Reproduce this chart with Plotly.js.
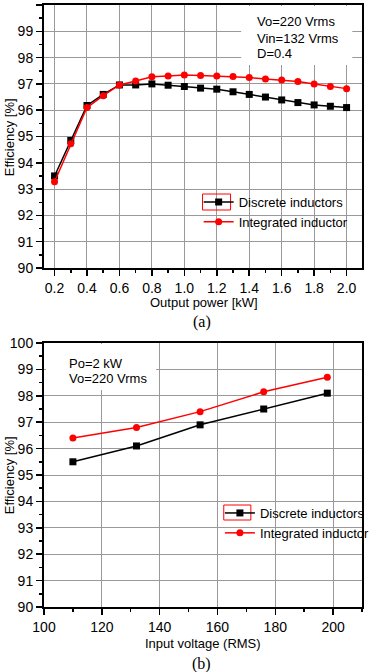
<!DOCTYPE html>
<html><head><meta charset="utf-8">
<script src="https://cdn.plot.ly/plotly-3.0.1.min.js"></script>
<style>html,body{margin:0;padding:0;background:#fff}#c{width:375px;height:672px}</style>
</head><body><div id="c"></div>
<script>
const powerKW = [0.2,0.3,0.4,0.5,0.6,0.7,0.8,0.9,1.0,1.1,1.2,1.3,1.4,1.5,1.6,1.7,1.8,1.9,2.0];
const effDiscreteA = [93.5,94.85,96.18,96.6,96.96,96.96,97.0,96.95,96.9,96.84,96.8,96.7,96.6,96.5,96.39,96.29,96.2,96.15,96.1];
const effIntegratedA = [93.28,94.72,96.1,96.55,96.96,97.11,97.27,97.3,97.34,97.32,97.3,97.28,97.24,97.19,97.15,97.09,97.0,96.9,96.82];
const inputV = [110,132,154,176,198];
const effDiscreteB = [95.5,96.1,96.9,97.5,98.1];
const effIntegratedB = [96.4,96.8,97.4,98.15,98.7];
const seriesNames = ["Discrete inductors","Integrated inductor"];

const W=375,H=672,L=44,R=2,PW=W-L-R;
const px=x=>(x-L)/PW, py=y=>(H-y)/H;
const font="Liberation Sans, Arial, sans-serif";
const xRangeA=[0.135,2.095], xRangeB=[100,210];
const topA=5,botA=268,topB=343,botB=607;
const dxA=p=>xRangeA[0]+(p-L)*(xRangeA[1]-xRangeA[0])/PW;
const dyA=p=>100-(p-topA)*10/(botA-topA);
const dxB=p=>xRangeB[0]+(p-L)*(xRangeB[1]-xRangeB[0])/PW;
const dyB=p=>100-(p-topB)*10/(botB-topB);

const lineStyle = c=>({color:c,width:1.5});
const traces = [
 {x:powerKW,y:effDiscreteA,name:seriesNames[0],mode:"lines+markers",line:lineStyle("#000"),marker:{symbol:"square",size:7,color:"#000"},xaxis:"x",yaxis:"y",legend:"legend"},
 {x:powerKW,y:effIntegratedA,name:seriesNames[1],mode:"lines+markers",line:lineStyle("#ff0000"),marker:{symbol:"circle",size:7,color:"#ff0000"},xaxis:"x",yaxis:"y",legend:"legend"},
 {x:inputV,y:effDiscreteB,name:seriesNames[0],mode:"lines+markers",line:lineStyle("#000"),marker:{symbol:"square",size:7,color:"#000"},xaxis:"x2",yaxis:"y2",legend:"legend2"},
 {x:inputV,y:effIntegratedB,name:seriesNames[1],mode:"lines+markers",line:lineStyle("#ff0000"),marker:{symbol:"circle",size:7,color:"#ff0000"},xaxis:"x2",yaxis:"y2",legend:"legend2"}
];

const axBase = {showline:true,linecolor:"#000",linewidth:2,mirror:true,showgrid:true,gridcolor:"#999999",gridwidth:1,
 ticks:"outside",ticklen:6,tickwidth:1.5,tickcolor:"#000",zeroline:false,tickfont:{family:font,size:14,color:"#000"}};

const yBase = Object.assign({},axBase,{range:[90,100],dtick:1,tick0:90,minor:{dtick:0.5,ticks:"outside",ticklen:3,tickwidth:1.5,tickcolor:"#000",showgrid:false}});

const ann = (text,x,y,opts)=>Object.assign({text:text,xref:"paper",yref:"paper",x:px(x),y:py(y),showarrow:false,
 font:{family:font,size:13,color:"#000"},xanchor:"left",yanchor:"middle"},opts||{});

const layout = {
 width:W,height:H,margin:{l:L,r:R,t:0,b:0},paper_bgcolor:"#fff",plot_bgcolor:"#fff",
 xaxis:Object.assign({},axBase,{domain:[0,1],anchor:"y",range:xRangeA,dtick:0.2,tick0:0.2,tickformat:".1f",
   minor:{dtick:0.1,ticks:"outside",ticklen:3,tickwidth:1.5,tickcolor:"#000",showgrid:false}}),
 yaxis:Object.assign({},yBase,{domain:[py(botA),py(topA)],anchor:"x"}),
 xaxis2:Object.assign({},axBase,{domain:[0,1],anchor:"y2",range:xRangeB,dtick:20,tick0:100,
   minor:{dtick:10,ticks:"outside",ticklen:3,tickwidth:1.5,tickcolor:"#000",showgrid:false}}),
 yaxis2:Object.assign({},yBase,{domain:[py(botB),py(topB)],anchor:"x2"}),
 legend:{x:px(204),y:py(187),xanchor:"left",yanchor:"top",bgcolor:"rgba(0,0,0,0)",font:{family:font,size:13,color:"#000"},tracegroupgap:0},
 legend2:{x:px(226),y:py(498),xanchor:"left",yanchor:"top",bgcolor:"rgba(0,0,0,0)",font:{family:font,size:13,color:"#000"},tracegroupgap:0},
 shapes:[
  {type:"rect",xref:"x",yref:"y",x0:dxA(248),x1:dxA(363),y0:dyA(65),y1:dyA(6),fillcolor:"#fff",line:{width:0},layer:"between"},
  {type:"rect",xref:"x2",yref:"y2",x0:dxB(46),x1:dxB(160),y0:dyB(390),y1:dyB(344),fillcolor:"#fff",line:{width:0},layer:"between"},
  {type:"rect",xref:"paper",yref:"paper",x0:px(208),x1:px(237),y0:py(210),y1:py(194),line:{color:"#ff0000",width:1}},
  {type:"rect",xref:"paper",yref:"paper",x0:px(230),x1:px(258),y0:py(520),y1:py(505),line:{color:"#ff0000",width:1}}
 ],
 annotations:[
  ann("Vo=220 Vrms",262,22),ann("Vin=132 Vrms",262,38),ann("D=0.4",262,53),
  ann("Po=2 kW",68,363),ann("Vo=220 Vrms",68,378),
  ann("Output power [kW]",210,303,{xanchor:"center"}),
  ann("(a)",207,322,{xanchor:"center",font:{family:"Liberation Serif, Times New Roman, serif",size:16,color:"#000"}}),
  ann("Input voltage (RMS)",209,643,{xanchor:"center"}),
  ann("(b)",207,664,{xanchor:"center",font:{family:"Liberation Serif, Times New Roman, serif",size:16,color:"#000"}}),
  ann("Efficiency [%]",8,137,{xanchor:"center",textangle:-90}),
  ann("Efficiency [%]",8,475,{xanchor:"center",textangle:-90})
 ]
};
Plotly.newPlot("c",traces,layout,{displayModeBar:false,staticPlot:true});
</script></body></html>
